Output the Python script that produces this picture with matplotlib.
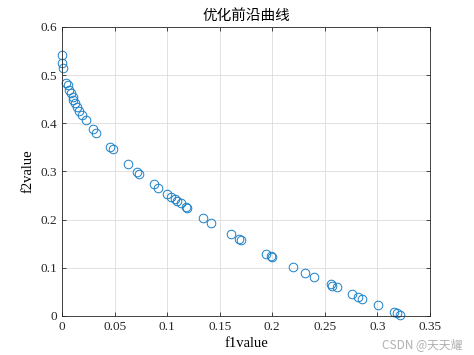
import numpy as np
import matplotlib.pyplot as plt

plt.rcParams['font.family'] = ['Liberation Serif', 'Noto Sans CJK SC', 'DejaVu Sans']

# 读图估计的帕累托前沿点
f1 = [0.000, 0.000, 0.001, 0.004, 0.006, 0.007, 0.008, 0.010, 0.010, 0.012,
      0.014, 0.016, 0.019, 0.023, 0.029, 0.032, 0.046, 0.048, 0.063, 0.071,
      0.073, 0.087, 0.091, 0.100, 0.104, 0.107, 0.109, 0.113, 0.118, 0.119,
      0.134, 0.142, 0.161, 0.168, 0.170, 0.194, 0.199, 0.200, 0.220, 0.231,
      0.240, 0.256, 0.257, 0.262, 0.276, 0.282, 0.285, 0.301, 0.316, 0.319,
      0.322]
f2 = [0.542, 0.525, 0.515, 0.484, 0.480, 0.469, 0.463, 0.455, 0.448, 0.442,
      0.434, 0.426, 0.417, 0.407, 0.388, 0.380, 0.351, 0.347, 0.315, 0.299,
      0.295, 0.274, 0.266, 0.253, 0.247, 0.243, 0.239, 0.235, 0.226, 0.224,
      0.203, 0.193, 0.170, 0.160, 0.158, 0.129, 0.125, 0.122, 0.102, 0.089,
      0.081, 0.066, 0.062, 0.060, 0.046, 0.039, 0.035, 0.023, 0.008, 0.006,
      0.002]

xticks = [0, 0.05, 0.1, 0.15, 0.2, 0.25, 0.3, 0.35]
xticklabels = ['0', '0.05', '0.1', '0.15', '0.2', '0.25', '0.3', '0.35']
yticks = [0, 0.1, 0.2, 0.3, 0.4, 0.5, 0.6]
yticklabels = ['0', '0.1', '0.2', '0.3', '0.4', '0.5', '0.6']

fig = plt.figure(figsize=(4.74, 3.55), dpi=100)
ax = fig.add_axes([0.131, 0.110, 0.776, 0.814])

ax.plot(f1, f2, 'o', markersize=6.2, markerfacecolor='none',
        markeredgecolor=(0.1, 0.5, 0.78), markeredgewidth=0.7, clip_on=False)

ax.set_xlim(0, 0.35)
ax.set_ylim(0, 0.6)
ax.set_xticks(xticks)
ax.set_xticklabels(xticklabels)
ax.set_yticks(yticks)
ax.set_yticklabels(yticklabels)
ax.grid(True, color='#dcdcdc', linewidth=0.6)
ax.set_axisbelow(True)
ax.tick_params(direction='in', top=True, right=True, length=3,
               labelsize=9.5, colors='#262626', width=0.6)
for s in ax.spines.values():
    s.set_color('#262626')
    s.set_linewidth(0.6)

ax.set_title('优化前沿曲线', fontsize=10.5, color='black', pad=5,
             family=['Noto Sans CJK SC', 'DejaVu Sans'])
ax.set_xlabel('f1value', fontsize=10.5, labelpad=3)
ax.set_ylabel('f2value', fontsize=10.5, labelpad=4)

fig.text(0.975, 0.01, 'CSDN @天天耀', ha='right', va='bottom', fontsize=8.5,
         color='#b0b0b0', family=['Noto Sans CJK SC', 'DejaVu Sans'])

fig.savefig('out.png', dpi=100)
